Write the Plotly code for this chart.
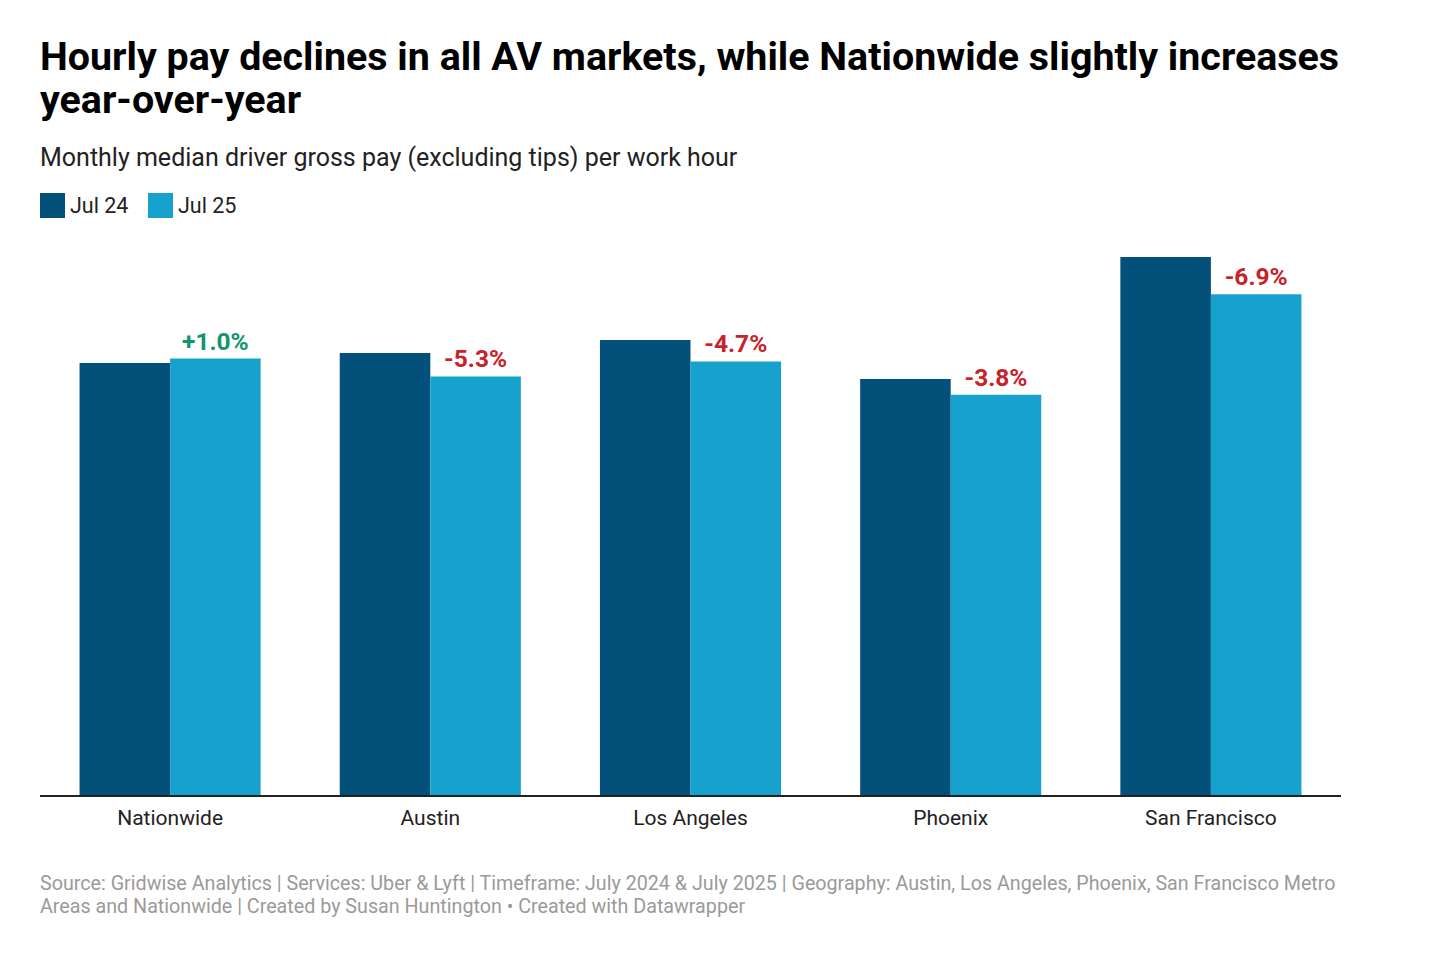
import plotly.graph_objects as go

categories = ["Nationwide", "Austin", "Los Angeles", "Phoenix", "San Francisco"]
jul24 = [21.60, 22.10, 22.75, 20.80, 26.90]
jul25 = [21.82, 20.93, 21.68, 20.01, 25.04]
change_labels = ["+1.0%", "-5.3%", "-4.7%", "-3.8%", "-6.9%"]
series_names = ["Jul 24", "Jul 25"]

DARK = "#03507a"
LIGHT = "#17a1cd"
GREEN = "#11946f"
RED = "#c8222b"
label_colors = [GREEN if s.startswith("+") else RED for s in change_labels]

OFF = 8  # page offset
W, H = 1418, 942
ML, MR = 40 - OFF, W - (1341 - OFF)
MT, MB = 240 - OFF, H - (795 - OFF)
plot_h = H - MT - MB
plot_w = W - ML - MR

def py(ypix):
    return ((795 - OFF) - (ypix - OFF)) / plot_h

def px(xpix):
    return (xpix - 40) / plot_w

fig = go.Figure()
fig.add_trace(go.Bar(x=categories, y=jul24, name=series_names[0], marker_color=DARK,
                     marker_line_width=0, showlegend=False))
fig.add_trace(go.Bar(x=categories, y=jul25, name=series_names[1], marker_color=LIGHT,
                     marker_line_width=0, showlegend=False,
                     text=change_labels, textposition="outside",
                     textfont=dict(family="Roboto", size=24.5, color=label_colors, weight="bold"),
                     cliponaxis=False))

def txt(s, ycenter, size, color, weight="normal"):
    return dict(text=s, x=0, xref="paper", y=py(ycenter), yref="paper", xshift=-2,
                xanchor="left", yanchor="middle", showarrow=False, align="left",
                font=dict(family="Roboto", size=size, color=color, weight=weight))

annotations = [
    txt("Hourly pay declines in all AV markets, while Nationwide slightly increases", 56, 39.4, "#000000", "bold"),
    txt("year-over-year", 100, 39.4, "#000000", "bold"),
    txt("Monthly median driver gross pay (excluding tips) per work hour", 157, 25, "#222222"),
    txt("Source: Gridwise Analytics | Services: Uber &amp; Lyft | Timeframe: July 2024 &amp; July 2025 | Geography: Austin, Los Angeles, Phoenix, San Francisco Metro", 883, 19.7, "#9a9a9a"),
    txt("Areas and Nationwide | Created by Susan Huntington • Created with Datawrapper", 906, 19.7, "#9a9a9a"),
]
shapes = []
legend_items = [(40, series_names[0], DARK), (148, series_names[1], LIGHT)]
for x0, name, col in legend_items:
    shapes.append(dict(type="rect", xref="paper", yref="paper",
                       x0=px(x0), x1=px(x0 + 25), y0=py(218), y1=py(193),
                       fillcolor=col, line_width=0))
    annotations.append(dict(text=name, x=px(x0 + 28), xref="paper", y=py(206), yref="paper",
                            xanchor="left", yanchor="middle", showarrow=False,
                            font=dict(family="Roboto", size=21.5, color="#222222")))

fig.update_layout(
    width=W, height=H,
    margin=dict(l=ML, r=MR, t=MT, b=MB),
    paper_bgcolor="white", plot_bgcolor="white",
    barmode="group", bargap=0.304, bargroupgap=0,
    font=dict(family="Roboto"),
    xaxis=dict(showline=True, linecolor="#222222", linewidth=1.5, ticks="",
               tickfont=dict(family="Roboto", size=21, color="#222222"),
               ticklabelstandoff=3,
               showgrid=False, zeroline=False),
    yaxis=dict(visible=False, range=[0, plot_h / 20.0], showgrid=False, zeroline=False),
    annotations=annotations, shapes=shapes,
)

fig.write_html("out.html")
